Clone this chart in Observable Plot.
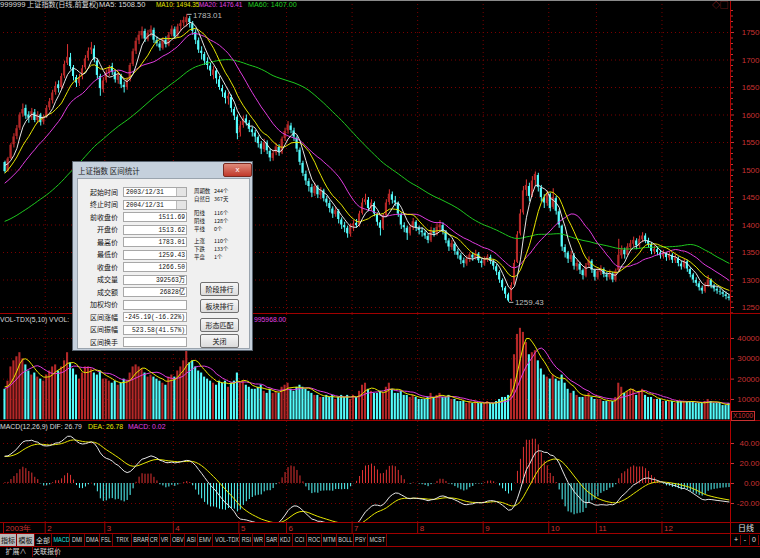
<!DOCTYPE html>
<html lang="zh">
<head>
<meta charset="utf-8">
<script src="https://cdn.jsdelivr.net/npm/d3@7"></script>
<script src="https://cdn.jsdelivr.net/npm/@observablehq/plot@0.6"></script>
<style>
html,body{margin:0;padding:0;background:#000;}
#root{position:relative;width:760px;height:558px;overflow:hidden;background:#000;
  font-family:"Liberation Sans",Arial,"Noto Sans CJK SC",sans-serif;}
.abs{position:absolute;white-space:nowrap;line-height:1;}
.sx{display:inline-block;transform-origin:0 50%;white-space:nowrap;}
.hline{position:absolute;left:0;width:760px;height:1px;background:#a00000;}
.panel{position:absolute;left:0;}
.panel svg{display:block;background:transparent;}
.tab{position:absolute;height:12px;line-height:12px;border-right:1px solid #800000;color:#d8d8d8;overflow:visible;text-align:center;box-sizing:border-box;white-space:nowrap;}
.dlg{position:absolute;left:72px;top:161px;width:181px;height:190px;background:#c5d0dc;border:1px solid #5a6470;box-sizing:border-box;
  font-family:"Noto Sans CJK SC",sans-serif;color:#111;}
.dlg .client{position:absolute;left:4px;top:16px;width:171px;height:169px;background:#f0f0f0;border:1px solid #9aa4ae;}
.dlg .lab{position:absolute;font-size:7px;text-align:right;width:40px;line-height:9px;}
.dlg .fld{position:absolute;background:#fff;border:1px solid #a8a8a8;font-family:"Liberation Mono","DejaVu Sans Mono","Noto Sans CJK SC",monospace;font-size:6.3px;line-height:9px;}
.dlg .st{position:absolute;font-size:5.4px;line-height:8px;}
.dlg .btn{position:absolute;width:37px;height:12px;border:1px solid #707070;border-radius:2px;background:linear-gradient(#f6f6f6,#dcdcdc);font-size:7px;line-height:12px;text-align:center;}
</style>
</head>
<body>
<div id="root"></div>
<script>
// ---------------- DATA ----------------
// warm-up closes (Oct–Dec 2003) used only for MA / MACD history
const preCloses = [1387,1385,1382,1389,1397,1395,1387,1379,1375,1367,1362,1356,1369,1377,1373,1365,1357,1355,
  1347,1342,1349,1345,1337,1329,1323,1332,1341,1353,1359,1367,1375,1382,1389,1397,1403,1399,1405,1411,
  1417,1425,1430,1445,1452,1468,1475,1462,1455,1460,1468,1469.7,1460,1475,1482,1490,1494,1505,1513.5,1515.3,1511.69];
const preVolumes = [13000,14000,15000,16000,15000,17000,18000,16000,15000];

// daily bars: [open, high, low, close, volume(x1000)]
const dec2003 = [[1513.62,1516,1494,1497.04,15000]];
const jan = [[1498,1523,1496,1520,19000],[1521,1548,1519,1545,26000],[1546,1566,1540,1560,29000],[1561,1581,1555,1575,31000],
  [1576,1604,1572,1600,33000],[1602,1620,1596,1610,30000],[1612,1618,1592,1598,27000],[1600,1606,1585,1594,24000],
  [1595,1612,1590,1606,22000],[1604,1610,1586,1590,23000],[1590,1606,1584,1601,21000],[1600,1603,1580,1586,20000],
  [1587,1600,1582,1596,19000]];
const feb = [[1597,1617,1594,1612,22000],[1613,1630,1608,1624,24000],[1626,1645,1620,1640,26000],[1641,1660,1636,1652,27000],
  [1655,1662,1640,1648,24000],[1650,1675,1646,1670,26000],[1671,1698,1666,1692,29000],[1694,1728,1690,1705,33000],
  [1704,1712,1682,1688,28000],[1686,1690,1662,1670,25000],[1668,1672,1650,1658,22000],[1657,1674,1652,1668,20000],
  [1669,1690,1664,1684,23000],[1686,1708,1682,1702,26000],[1703,1722,1698,1716,26000],[1718,1732,1710,1722,25000],
  [1720,1726,1695,1700,23000],[1698,1702,1665,1672,22000],[1670,1674,1634,1648,24000],[1646,1668,1640,1662,20000]];
const mar = [[1663,1682,1658,1676,20000],[1677,1690,1670,1686,19000],[1688,1694,1672,1678,18000],[1677,1682,1658,1664,19000],
  [1663,1678,1656,1672,17000],[1670,1674,1648,1655,18000],[1654,1660,1640,1650,20000],[1650,1668,1645,1662,19000],
  [1663,1694,1660,1690,23000],[1692,1720,1688,1715,26000],[1716,1740,1710,1734,27000],[1735,1752,1728,1745,26000],
  [1744,1760,1738,1752,25000],[1752,1756,1732,1738,23000],[1737,1754,1733,1748,21000],[1749,1762,1742,1755,22000],
  [1754,1758,1730,1736,21000],[1735,1742,1724,1730,20000],[1729,1734,1716,1722,19000],[1721,1740,1718,1735,18000],
  [1736,1742,1722,1728,17000],[1727,1750,1724,1745,21000],[1746,1762,1742,1756,22000]];
const apr = [[1755,1760,1738,1742,21000],[1743,1765,1740,1760,24000],[1761,1772,1752,1766,26000],[1767,1778,1760,1772,29000],
  [1768,1783.01,1760,1777,34000],[1775,1779,1758,1768,28000],[1766,1770,1745,1752,29000],[1750,1755,1728,1736,26000],
  [1735,1740,1712,1718,24000],[1716,1724,1700,1712,23000],[1710,1714,1690,1698,21000],[1697,1704,1682,1690,20000],
  [1689,1694,1670,1680,19000],[1672,1688,1664,1682,18000],[1680,1684,1656,1666,17000],[1664,1670,1645,1650,19000],
  [1648,1654,1632,1642,18000],[1640,1644,1620,1630,19000],[1629,1640,1618,1634,16000],[1632,1636,1604,1612,18000],
  [1610,1614,1590,1598,19000],[1596,1600,1555,1566,23000]];
const may = [[1568,1588,1560,1580,18000],[1581,1598,1576,1592,19000],[1593,1600,1580,1586,17000],[1585,1590,1568,1574,16000],
  [1573,1578,1560,1568,15000],[1567,1572,1550,1560,15000],[1559,1562,1540,1548,16000],[1547,1552,1528,1538,17000],
  [1537,1556,1532,1550,14000],[1549,1553,1528,1535,13000],[1534,1538,1515,1522,15000],[1521,1536,1516,1530,13000],
  [1531,1548,1526,1542,14000],[1541,1546,1525,1532,13000],[1531,1560,1528,1556,16000],[1557,1576,1552,1570,17000]];
const jun = [[1571,1588,1565,1582,18000],[1580,1585,1566,1572,15000],[1571,1576,1552,1560,14000],[1558,1562,1532,1538,16000],
  [1536,1540,1508,1514,17000],[1512,1516,1488,1494,16000],[1492,1498,1472,1480,15000],[1479,1484,1460,1470,14000],
  [1468,1474,1450,1458,13000],[1457,1476,1452,1470,12000],[1469,1472,1448,1455,12000],[1454,1468,1446,1463,11000],
  [1462,1465,1442,1448,11000],[1447,1452,1433,1440,12000],[1439,1444,1422,1430,11000],[1429,1433,1412,1420,12000],
  [1419,1432,1414,1426,10000],[1425,1428,1402,1410,11000],[1409,1413,1392,1400,12000],[1399,1405,1386,1395,11000],
  [1394,1398,1376,1384,12000],[1383,1402,1378,1399.16,10000]];
const jul = [[1398,1408,1388,1402,12000],[1403,1410,1394,1399,11000],[1398,1425,1396,1420,14000],[1421,1448,1418,1440,17000],
  [1441,1456,1436,1446,18000],[1445,1450,1424,1430,15000],[1429,1446,1425,1440,14000],[1439,1442,1415,1420,13000],
  [1419,1422,1398,1405,13000],[1404,1408,1380,1394,14000],[1393,1420,1390,1416,13000],[1417,1446,1414,1440,16000],
  [1441,1464,1436,1456,18000],[1455,1460,1438,1445,15000],[1444,1452,1434,1440,13000],[1439,1442,1414,1420,13000],
  [1419,1422,1392,1400,14000],[1399,1404,1386,1395,12000],[1394,1398,1372,1385,12000],[1384,1400,1380,1396,11000],
  [1395,1412,1390,1406,12000],[1405,1408,1388,1395,11000]];
const aug = [[1394,1398,1382,1390,10000],[1389,1395,1378,1386,10000],[1385,1390,1374,1380,10000],[1379,1384,1366,1372,11000],
  [1371,1396,1368,1390,13000],[1389,1394,1378,1384,11000],[1383,1402,1380,1396,12000],[1395,1408,1390,1400,13000],
  [1399,1404,1382,1388,11000],[1387,1390,1366,1372,11000],[1371,1375,1352,1360,12000],[1359,1372,1354,1366,10000],
  [1365,1368,1345,1352,10000],[1351,1356,1338,1345,9000],[1344,1348,1328,1336,9000],[1335,1340,1322,1330,9000],
  [1329,1344,1325,1338,8000],[1337,1350,1332,1346,9000],[1345,1350,1334,1340,8000],[1339,1354,1336,1348,9000],
  [1347,1350,1330,1335,8000],[1334,1338,1322,1330,8000]];
const sep = [[1329,1342,1325,1338,8000],[1337,1346,1332,1342,9000],[1341,1345,1328,1334,8000],[1333,1337,1318,1325,8000],
  [1324,1328,1308,1315,9000],[1314,1317,1294,1300,10000],[1299,1302,1280,1286,11000],[1285,1288,1266,1274,11000],
  [1273,1276,1259.43,1262,12000],[1263,1295,1261,1290,20000],[1291,1336,1290,1330,32000],[1332,1388,1330,1382,42000],
  [1384,1428,1380,1420,45000],[1422,1470,1418,1462,43000],[1463,1482,1452,1472,38000],[1470,1476,1442,1452,32000],
  [1453,1488,1450,1480,33000],[1481,1496.5,1470,1492,34000],[1490,1494,1460,1468,29000],[1467,1472,1442,1450,25000],
  [1449,1455,1430,1440,22000],[1439,1462,1434,1456,21000]];
const oct = [[1455,1458,1424,1430,20000],[1432,1466,1428,1450,22000],[1448,1452,1418,1425,20000],[1424,1428,1394,1400,19000],
  [1398,1400,1352,1360,22000],[1359,1364,1340,1350,18000],[1349,1352,1330,1338,15000],[1337,1352,1332,1345,13000],
  [1344,1348,1318,1325,14000],[1324,1336,1316,1330,12000],[1329,1332,1310,1318,11000],[1317,1320,1300,1308,11000],
  [1307,1330,1304,1325,12000],[1326,1342,1322,1335,13000],[1334,1337,1312,1318,11000],[1317,1320,1298,1305,10000]];
const nov = [[1304,1320,1300,1315,10000],[1314,1326,1308,1320,10000],[1319,1322,1304,1310,9000],[1309,1314,1298,1305,9000],
  [1304,1318,1300,1312,9000],[1311,1314,1295,1300,9000],[1299,1320,1296,1316,11000],[1317,1374,1314,1345,18000],
  [1344,1362,1338,1355,16000],[1354,1358,1338,1346,13000],[1345,1366,1342,1360,14000],[1359,1372,1352,1366,15000],
  [1365,1378,1360,1372,15000],[1371,1375,1355,1362,12000],[1361,1380,1356,1374,14000],[1373,1386,1368,1380,15000],
  [1380,1384,1366,1372,12000],[1371,1376,1358,1365,11000],[1364,1368,1346,1352,11000],[1351,1362,1346,1356,10000],
  [1355,1360,1344,1350,10000],[1349,1354,1338,1344,10000]];
const dec = [[1343,1354,1338,1348,9000],[1347,1350,1334,1340.77,9000],[1340,1352,1335,1346,9000],[1345,1348,1330,1336,9000],
  [1335,1346,1330,1340,8000],[1339,1342,1324,1330,9000],[1329,1334,1318,1324,9000],[1323,1338,1320,1334,9000],
  [1333,1336,1314,1320,9000],[1319,1322,1304,1310,9000],[1309,1312,1294,1300,9000],[1299,1304,1288,1294,8000],
  [1293,1297,1280,1286,8000],[1285,1289,1274,1280,8000],[1279,1295,1276,1290,9000],[1289,1308,1286,1300,10000],
  [1299,1302,1284,1290,9000],[1289,1292,1278,1284,8000],[1283,1287,1274,1280,8000],[1279,1284,1272,1278,8000],
  [1277,1281,1268,1274,7000],[1273,1278,1264,1270,7000],[1269,1274,1262,1266.5,8000]];

const monthLabels = ["2003年","2","3","4","5","6","7","8","9","10","11","12"];
const priceTicks = [1250,1300,1350,1400,1450,1500,1550,1600,1650,1700,1750];
const volTicks = [10000,20000,30000,40000];
const macdTicks = [-20,0,20,40];

// header segments: [text, colour, left, horizontal squeeze (0 = none)]
const headerPrice = [["999999","#dcdcdc",0,0.95],["上证指数(日线,前复权)","#dcdcdc",27,0],["MA5: 1508.50","#dcdcdc",99,0.93],
  ["MA10: 1494.35","#e6e600",156,0.8],["MA20: 1476.41","#e040e0",199,0.8],["MA60: 1407.00","#20d020",248,0.9]];
const headerVol = [["VOL-TDX(5,10) VVOL:","#dcdcdc",0,0.85],["995968.00","#e040e0",254,0.85]];
const headerMacd = [["MACD(12,26,9) DIF: 26.79","#dcdcdc",0,0.86],["DEA: 26.78","#e6e600",88,0.86],["MACD: 0.02","#e040e0",128,0.86]];

const dialogTitle = "上证指数 区间统计";
const dialogLabels = ["起始时间","终止时间","前收盘价","开盘价","最高价","最低价","收盘价","成交量","成交额","加权均价","区间涨幅","区间振幅","区间换手"];
const dialogValues = ["2003/12/31","2004/12/31","1511.69","1513.62","1783.01","1259.43","1266.50","392563万","26828亿","","-245.19(-16.22%)","523.58(41.57%)",""];
const statRows = [["周期数","244个"],["自然日","367天"],["阳线","116个"],["阴线","128个"],["平线","0个"],["上涨","110个"],["下跌","133个"],["平盘","1个"]];
const dialogButtons = ["阶段排行","板块排行","形态匹配","关闭"];
const tabNames = ["指标","模板","全部","MACD","DMI","DMA","FSL","TRIX","BRAR","CR","VR","OBV","ASI","EMV","VOL-TDX","RSI","WR","SAR","KDJ","CCI","ROC","MTM","BOLL","PSY","MCST"];
const bottomTabs = ["扩展∧","关联报价"];

// ---------------- DERIVED ----------------
const months = [jan,feb,mar,apr,may,jun,jul,aug,sep,oct,nov,dec];
const rows = [...dec2003, ...months.flat()];
const bars = rows.map(([o,h,l,c,v],i)=>({i,o,h,l,c,v,up:c>o}));
const monthStarts = [0];
{ let k = dec2003.length + jan.length; for (let m=1;m<months.length;m++){ monthStarts.push(k); k += months[m].length; } }

const allC = preCloses.concat(bars.map(d=>d.c));
const allV = preVolumes.concat(bars.map(d=>d.v));
const P = preCloses.length, PV = preVolumes.length;
const sma = (arr,n,k)=>d3.mean(arr.slice(Math.max(0,k-n+1),k+1));
const ema = (arr,n)=>{const a=2/(n+1),o=[];arr.forEach((v,j)=>o.push(j?o[j-1]+a*(v-o[j-1]):v));return o;};
const e12=ema(allC,12), e26=ema(allC,26);
const difAll = e12.map((v,j)=>v-e26[j]);
const deaAll = ema(difAll,9);
bars.forEach((d,i)=>{
  d.ma5=sma(allC,5,i+P); d.ma10=sma(allC,10,i+P); d.ma20=sma(allC,20,i+P); d.ma60=sma(allC,60,i+P);
  d.vma5=sma(allV,5,i+PV); d.vma10=sma(allV,10,i+PV);
  d.dif=difAll[i+P]; d.dea=deaAll[i+P]; d.macd=2*(d.dif-d.dea);
});

// ---------------- DRAW ----------------
const C = {up:"#b42828", upLine:"#e03232", down:"#54fcfc", ma5:"#e6e6e6", ma10:"#e6e600", ma20:"#e03ce0", ma60:"#1ec81e",
  grid:"#7a0000", axis:"#c83232"};
const FONT = '"Liberation Sans",Arial,sans-serif';
const X_DOMAIN = [-0.5, bars.length-0.5];
const half = 0.35;
const vlines = monthStarts.slice(1).map(s=>s-0.5);

function panel(height, yDomain, ticks, fmt, minor, marks){
  return Plot.plot({
    width:760, height, marginLeft:3, marginRight:30, marginTop:0, marginBottom:0,
    style:{background:"transparent", fontFamily:FONT, fontSize:"8px", overflow:"visible"},
    x:{domain:X_DOMAIN, axis:null},
    y:{domain:yDomain, axis:null},
    color:{type:"identity"},
    marks:[
      Plot.ruleY(ticks,{stroke:C.grid, strokeDasharray:"1,3"}),
      Plot.ruleX(vlines,{stroke:C.grid, strokeDasharray:"1,3"}),
      ...marks,
      minor ? Plot.axisY({anchor:"right", ticks:minor, tickSize:2, tickFormat:()=>"", color:C.axis, label:null}) : null,
      Plot.axisY({anchor:"right", ticks, tickSize:3, tickPadding:26, textAnchor:"end", tickFormat:fmt, color:C.axis, label:null})
    ]
  });
}

const peak = d3.greatest(bars,d=>d.h), trough = d3.least(bars,d=>d.l);
const priceChart = panel(313, [1239.1,1808.2], priceTicks, d=>String(d),
  d3.range(1240,1810,10).filter(v=>v%50), [
  Plot.ruleX(bars,{x:"i", y1:"l", y2:"h", stroke:d=>d.up?C.upLine:C.down, strokeWidth:1}),
  Plot.rect(bars,{x1:d=>d.i-half, x2:d=>d.i+half, y1:"o", y2:"c", fill:d=>d.up?C.up:C.down}),
  Plot.line(bars,{x:"i", y:"ma60", stroke:C.ma60, strokeWidth:1}),
  Plot.line(bars,{x:"i", y:"ma20", stroke:C.ma20, strokeWidth:1}),
  Plot.line(bars,{x:"i", y:"ma10", stroke:C.ma10, strokeWidth:1}),
  Plot.line(bars,{x:"i", y:"ma5", stroke:C.ma5, strokeWidth:1}),
  Plot.ruleY([peak],{x1:d=>d.i+0.3, x2:d=>d.i+1.8, y:"h", stroke:"#bdbdbd"}),
  Plot.text([peak],{x:d=>d.i+1.8, y:"h", text:d=>d.h.toFixed(2), textAnchor:"start", dx:1, dy:1, fill:"#bdbdbd", fontSize:8}),
  Plot.ruleY([trough],{x1:d=>d.i+0.3, x2:d=>d.i+1.8, y:"l", stroke:"#bdbdbd"}),
  Plot.text([trough],{x:d=>d.i+1.8, y:"l", text:d=>d.l.toFixed(2), textAnchor:"start", dx:1, fill:"#bdbdbd", fontSize:8})
]);

const volChart = panel(106, [-344,51795], volTicks, d=>String(d), null, [
  Plot.rect(bars,{x1:d=>d.i-half, x2:d=>d.i+half, y1:0, y2:"v", fill:d=>d.up?C.up:C.down}),
  Plot.line(bars,{x:"i", y:"vma10", stroke:C.ma20, strokeWidth:1}),
  Plot.line(bars,{x:"i", y:"vma5", stroke:C.ma10, strokeWidth:1})
]);

const macdChart = panel(101, [-39,62], macdTicks, d=>d.toFixed(2), null, [
  Plot.ruleX(bars,{x:"i", y1:0, y2:"macd", stroke:d=>d.macd>=0?C.upLine:C.down, strokeWidth:1}),
  Plot.line(bars,{x:"i", y:"dea", stroke:C.ma10, strokeWidth:1, clip:true}),
  Plot.line(bars,{x:"i", y:"dif", stroke:C.ma5, strokeWidth:1, clip:true})
]);

const axisChart = Plot.plot({
  width:760, height:11, marginLeft:3, marginRight:30, marginTop:0, marginBottom:0,
  style:{background:"transparent", fontFamily:FONT, fontSize:"8px", overflow:"visible"},
  x:{domain:X_DOMAIN, axis:null}, y:{axis:null},
  marks:[
    Plot.ruleX(monthStarts.map(s=>s-0.5),{stroke:"#a00000"}),
    Plot.text(monthStarts.map((s,k)=>({x:s-0.5, t:monthLabels[k]})),{x:"x", text:"t", textAnchor:"start", dx:2, frameAnchor:"middle", fill:"#c83232"})
  ]
});

const root = document.getElementById("root");
function place(node, top){ const d=document.createElement("div"); d.className="panel"; d.style.top=top+"px"; d.appendChild(node); root.appendChild(d); }
place(priceChart,0); place(volChart,314); place(macdChart,421); place(axisChart,522);

function hline(y,color){ const d=document.createElement("div"); d.className="hline"; d.style.top=y+"px"; if(color) d.style.background=color; root.appendChild(d); }
hline(0,"#8a8a8a"); hline(313); hline(420); hline(522); hline(533); hline(546);
const vl=document.createElement("div"); vl.style.cssText="position:absolute;left:730px;top:1px;width:1px;height:545px;background:#b00000;"; root.appendChild(vl);

function txt(s,color,x,y,size,extra,scale){ const d=document.createElement("div"); d.className="abs";
  d.style.cssText+=`left:${x}px;top:${y}px;color:${color};font-size:${size}px;`+(extra||"");
  if(scale){ const sp=document.createElement("span"); sp.className="sx"; sp.style.transform=`scaleX(${scale})`; sp.textContent=s; d.appendChild(sp); }
  else d.textContent=s;
  root.appendChild(d); return d; }
headerPrice.forEach(seg=>txt(seg[0],seg[1],seg[2],1,seg[3]?8:7.2,'font-family:"Liberation Sans","Noto Sans CJK SC",sans-serif;',seg[3]));
headerVol.forEach(seg=>txt(seg[0],seg[1],seg[2],316,8,"",seg[3]));
headerMacd.forEach(seg=>txt(seg[0],seg[1],seg[2],423,8,"",seg[3]));
txt("◇▢","#c03030",712,2,8);
txt("X1000","#c83232",731,411,7,"border:1px solid #c83232;padding:0 1px;height:8px;line-height:8px;");
txt("日线","#e0e0e0",738,524,8,'font-family:"Noto Sans CJK SC",sans-serif;');
["+","-","0"].forEach((s,k)=>txt(s,"#e0e0e0",732+k*9,535,7,"width:8px;text-align:center;border-right:1px solid #800000;height:10px;line-height:10px;"));

// tabs (edges taken from the reference layout)
const tabEdges = [0,17,35,52,70,85,100,113,132,149,160,171,185,198,213,240,253,265,279,293,307,322,337,354,368,387];
tabNames.forEach((n,k)=>{
  const t=document.createElement("div"); t.className="tab";
  const w=tabEdges[k+1]-tabEdges[k];
  t.style.cssText+=`left:${tabEdges[k]}px;top:534px;width:${w}px;font-size:${k<3?7:6.5}px;`;
  t.style.fontFamily = k<3 ? '"Noto Sans CJK SC",sans-serif' : '"Liberation Sans",sans-serif';
  if(k<2){t.style.background="#b8b8b8";t.style.color="#111";}
  if(n==="MACD"){t.style.color="#20e0e0";}
  const sp=document.createElement("span"); sp.className="sx"; sp.textContent=n;
  if(k>=3){ sp.style.transform="scaleX(0.85)"; sp.style.transformOrigin="50% 50%"; }
  t.appendChild(sp); root.appendChild(t);
});
const bEdges=[0,33,57];
bottomTabs.forEach((n,k)=>{const t=document.createElement("div"); t.className="tab"; t.textContent=n;
  t.style.cssText+=`left:${bEdges[k]}px;top:546px;width:${bEdges[k+1]-bEdges[k]}px;font-size:7px;font-family:"Noto Sans CJK SC",sans-serif;height:11px;line-height:10px;`;
  root.appendChild(t);});

// dialog
const dlg=document.createElement("div"); dlg.className="dlg";
let h=`<div class="abs" style="left:5px;top:5px;font-size:7.5px;color:#222">${dialogTitle}</div>`;
h+=`<div class="abs" style="left:150px;top:1px;width:27px;height:12px;background:linear-gradient(#e08a7a,#c0392b);border:1px solid #7a2a20;border-radius:2px;color:#fff;font-size:8px;line-height:12px;text-align:center;font-family:Arial">x</div>`;
h+=`<div class="client"></div>`;
dialogLabels.forEach((lab,k)=>{
  const top=25.7+k*12.5;
  h+=`<div class="lab" style="left:5px;top:${top}px">${lab}</div>`;
  const left = k<2;
  h+=`<div class="fld" style="left:50px;top:${top-0.5}px;text-align:${left?"left":"right"};padding:0 ${left?0:1}px 0 ${left?2:0}px;box-sizing:border-box;width:64px;height:10px;">${dialogValues[k]}</div>`;
  if(left) h+=`<div class="abs" style="left:103px;top:${top+0.5}px;width:9px;height:8px;background:#e4e4e4;border-left:1px solid #bbb"></div>`;
});
const statY=[25,33,47,55,63,75,83,91];
statRows.forEach(([a,b],k)=>{
  h+=`<div class="st" style="left:121px;top:${statY[k]}px">${a}</div><div class="st" style="left:141px;top:${statY[k]}px">${b}</div>`;
});
const btnY=[119.5,136.5,155.5,172];
dialogButtons.forEach((b,k)=>{h+=`<div class="btn" style="left:127px;top:${btnY[k]}px">${b}</div>`;});
dlg.innerHTML=h;
root.appendChild(dlg);
</script>
</body>
</html>
